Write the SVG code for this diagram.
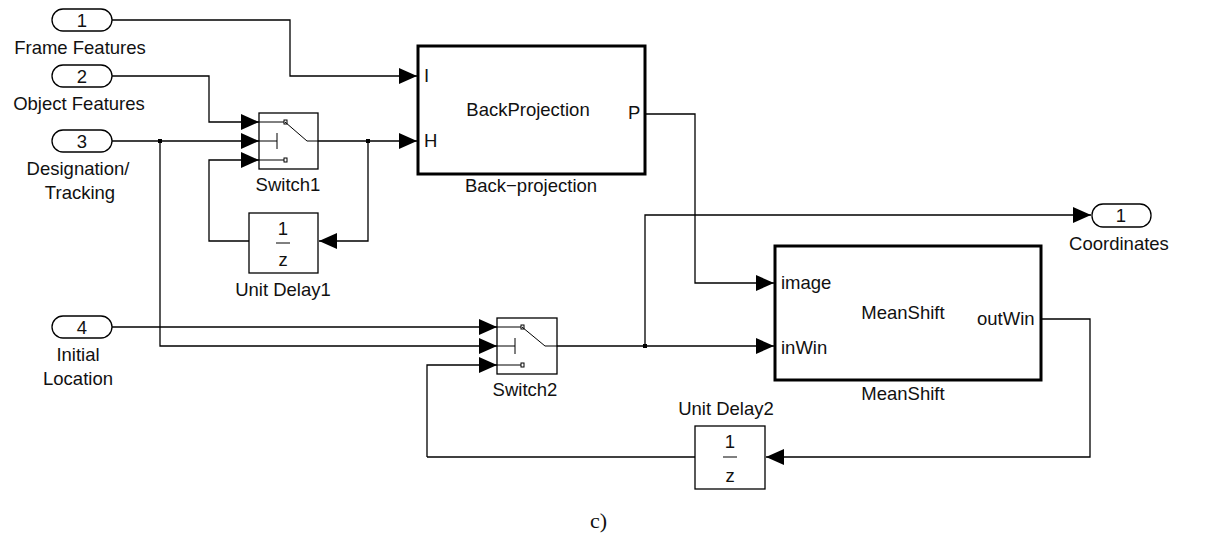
<svg xmlns="http://www.w3.org/2000/svg" width="1219" height="546" viewBox="0 0 1219 546">
<style>
text{font-family:"Liberation Sans",Arial,sans-serif;font-size:18.5px;fill:#111}
.c{text-anchor:middle}
.b{fill:#fff;stroke:#000;stroke-width:1.3}
.bb{fill:#fff;stroke:#000;stroke-width:3}
.w{fill:none;stroke:#000;stroke-width:1.3}
.s{fill:none;stroke:#000;stroke-width:1}
</style>
<defs><marker id="a" markerWidth="19" markerHeight="17" refX="18" refY="8" orient="auto" markerUnits="userSpaceOnUse"><path d="M0,0L18,8L0,16z" fill="#000"/></marker></defs>
<rect width="1219" height="546" fill="#fff"/>
<g id="connectors">
<path class="w" d="M112,20H290V76H417" marker-end="url(#a)"/>
<path class="w" d="M112,76H209V122H259" marker-end="url(#a)"/>
<path class="w" d="M112,141H259" marker-end="url(#a)"/>
<path class="w" d="M160,141V346H497" marker-end="url(#a)"/>
<path class="w" d="M318,141H417" marker-end="url(#a)"/>
<path class="w" d="M368,141V241H319" marker-end="url(#a)"/>
<path class="w" d="M249,241H209V160H259" marker-end="url(#a)"/>
<path class="w" d="M112,327H497" marker-end="url(#a)"/>
<path class="w" d="M427,457V365H497" marker-end="url(#a)"/>
<path class="w" d="M645,114H695V283H774" marker-end="url(#a)"/>
<path class="w" d="M557,346H774" marker-end="url(#a)"/>
<path class="w" d="M645,346V215H1091" marker-end="url(#a)"/>
<path class="w" d="M1041,319H1090V457H766" marker-end="url(#a)"/>
<path class="w" d="M695,457H427"/>
<rect x="158" y="139" width="4" height="4"/><rect x="366" y="139" width="4" height="4"/><rect x="643" y="344" width="4" height="4"/>
</g>
<g id="in1"><rect class="b" x="52" y="9" width="60" height="22" rx="11"/><text class="c" x="82" y="27">1</text><text class="c" x="80" y="54">Frame Features</text></g>
<g id="in2"><rect class="b" x="52" y="65" width="60" height="22" rx="11"/><text class="c" x="82" y="83">2</text><text class="c" x="79" y="110">Object Features</text></g>
<g id="in3"><rect class="b" x="52" y="130" width="60" height="22" rx="11"/><text class="c" x="82" y="148">3</text><text class="c" x="78" y="175">Designation/</text><text class="c" x="80" y="199">Tracking</text></g>
<g id="in4"><rect class="b" x="52" y="316" width="60" height="22" rx="11"/><text class="c" x="82" y="334">4</text><text class="c" x="78" y="361">Initial</text><text class="c" x="78" y="385">Location</text></g>
<g id="switch1"><rect class="b" x="259" y="113" width="59" height="56"/><path class="s" d="M259,122H284M259,141H277M277,133V149M259,160H284M285,122L307,141H318"/><rect x="284" y="120" width="3" height="4" class="s"/><rect x="284" y="158" width="3" height="4" class="s"/><text class="c" x="288" y="191">Switch1</text></g>
<g id="delay1"><rect class="b" x="249" y="213" width="69" height="60"/><text class="c" x="283" y="235">1</text><path class="s" d="M276,243H290"/><text class="c" x="283" y="266">z</text><text class="c" x="283" y="296">Unit Delay1</text></g>
<g id="backproj"><rect class="bb" x="418" y="46" width="227" height="128"/><text x="424" y="82">I</text><text x="424" y="147">H</text><text x="628" y="119">P</text><text class="c" x="528" y="116">BackProjection</text><text class="c" x="531" y="192">Back−projection</text></g>
<g id="switch2"><rect class="b" x="497" y="318" width="60" height="56"/><path class="s" d="M497,327H521M497,346H515M515,338V354M497,365H521M522,327L545,346H557"/><rect x="521" y="325" width="3" height="4" class="s"/><rect x="521" y="363" width="3" height="4" class="s"/><text class="c" x="525" y="396">Switch2</text></g>
<g id="meanshift"><rect class="bb" x="775" y="246" width="266" height="134"/><text x="781" y="289">image</text><text x="781" y="354">inWin</text><text x="977" y="325">outWin</text><text class="c" x="903" y="319">MeanShift</text><text class="c" x="903" y="400">MeanShift</text></g>
<g id="delay2"><rect class="b" x="695" y="426" width="70" height="63"/><text class="c" x="730" y="448">1</text><path class="s" d="M723,457H737"/><text class="c" x="730" y="482">z</text><text class="c" x="726" y="415">Unit Delay2</text></g>
<g id="out1"><rect class="b" x="1092" y="204" width="59" height="23" rx="11"/><text class="c" x="1121" y="222">1</text><text class="c" x="1119" y="250">Coordinates</text></g>
<text x="590" y="528" style="font-family:'Liberation Serif',serif;font-size:22px">c)</text>
</svg>
